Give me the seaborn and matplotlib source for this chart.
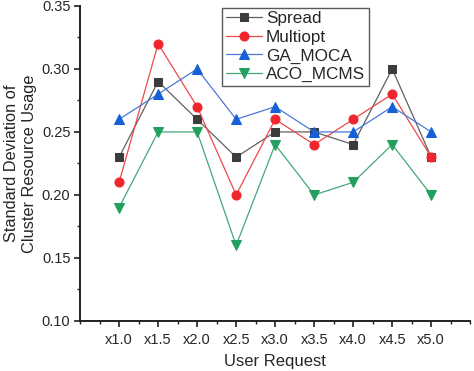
import numpy as np
import pandas as pd
import matplotlib
matplotlib.use('Agg')
import matplotlib.pyplot as plt
import seaborn as sns
from matplotlib.ticker import MultipleLocator, FormatStrFormatter

# data
requests = ['x1.0', 'x1.5', 'x2.0', 'x2.5', 'x3.0', 'x3.5', 'x4.0', 'x4.5', 'x5.0']
spread = [0.23, 0.29, 0.26, 0.23, 0.25, 0.25, 0.24, 0.30, 0.23]
multiopt = [0.21, 0.32, 0.27, 0.20, 0.26, 0.24, 0.26, 0.28, 0.23]
ga_moca = [0.26, 0.28, 0.30, 0.26, 0.27, 0.25, 0.25, 0.27, 0.25]
aco_mcms = [0.19, 0.25, 0.25, 0.16, 0.24, 0.20, 0.21, 0.24, 0.20]

series = {'Spread': spread, 'Multiopt': multiopt, 'GA_MOCA': ga_moca, 'ACO_MCMS': aco_mcms}
rows = []
for name, vals in series.items():
    for i, v in enumerate(vals):
        rows.append({'pos': i, 'req': requests[i], 'method': name, 'value': v})
df = pd.DataFrame(rows)

sns.set_style('ticks')
plt.rcParams['font.family'] = ['Liberation Sans', 'DejaVu Sans']

palette = {'Spread': '#3c3c3c', 'Multiopt': '#f0262e', 'GA_MOCA': '#1560d8', 'ACO_MCMS': '#22a060'}
line_cols = {'Spread': '#606060', 'Multiopt': '#f04848', 'GA_MOCA': '#4a78d8', 'ACO_MCMS': '#44a878'}
markers = {'Spread': 's', 'Multiopt': 'o', 'GA_MOCA': '^', 'ACO_MCMS': 'v'}
msize = {'Spread': 6, 'Multiopt': 6.5, 'GA_MOCA': 7, 'ACO_MCMS': 7}

fig = plt.figure(figsize=(4.74, 3.71), dpi=100)
ax = fig.add_axes([0.169, 0.135, 0.823, 0.849])

for name in series:
    sub = df[df['method'] == name]
    sns.lineplot(data=sub, x='pos', y='value', ax=ax, color=line_cols[name], lw=0.9,
                 marker=markers[name], markersize=msize[name], markerfacecolor=palette[name],
                 markeredgecolor=palette[name], label=name)

ax.set_xlim(-1, 9)
ax.set_ylim(0.10, 0.35)
ax.set_xticks(range(len(requests)))
ax.set_xticklabels(requests)
ax.xaxis.set_minor_locator(MultipleLocator(0.5))
ax.yaxis.set_major_locator(MultipleLocator(0.05))
ax.yaxis.set_minor_locator(MultipleLocator(0.025))
ax.yaxis.set_major_formatter(FormatStrFormatter('%.2f'))
ax.tick_params(which='major', length=4, width=1.2, labelsize=10.5, color='#202020')
ax.tick_params(which='minor', length=2.5, width=1.0, color='#202020')
ax.tick_params(axis='x', which='major', pad=5)
ax.tick_params(axis='y', which='major', pad=3)
sns.despine(ax=ax)
for s in ['left', 'bottom']:
    ax.spines[s].set_linewidth(1.4)
    ax.spines[s].set_color('#202020')

ax.set_xlabel('User Request', fontsize=12, labelpad=5)
ax.set_ylabel('Standard Deviation of\nCluster Resource Usage', fontsize=11.8, linespacing=1.25)
ax.yaxis.set_label_coords(-0.11, 0.5)

leg = ax.legend(loc='upper left', bbox_to_anchor=(0.365, 0.995), fontsize=12.3,
                frameon=True, fancybox=False, edgecolor='#303030', handlelength=2.1,
                borderpad=0.2, labelspacing=0.22, handletextpad=0.25, borderaxespad=0)
leg.get_frame().set_linewidth(1.0)

fig.savefig('out.png', dpi=100)
